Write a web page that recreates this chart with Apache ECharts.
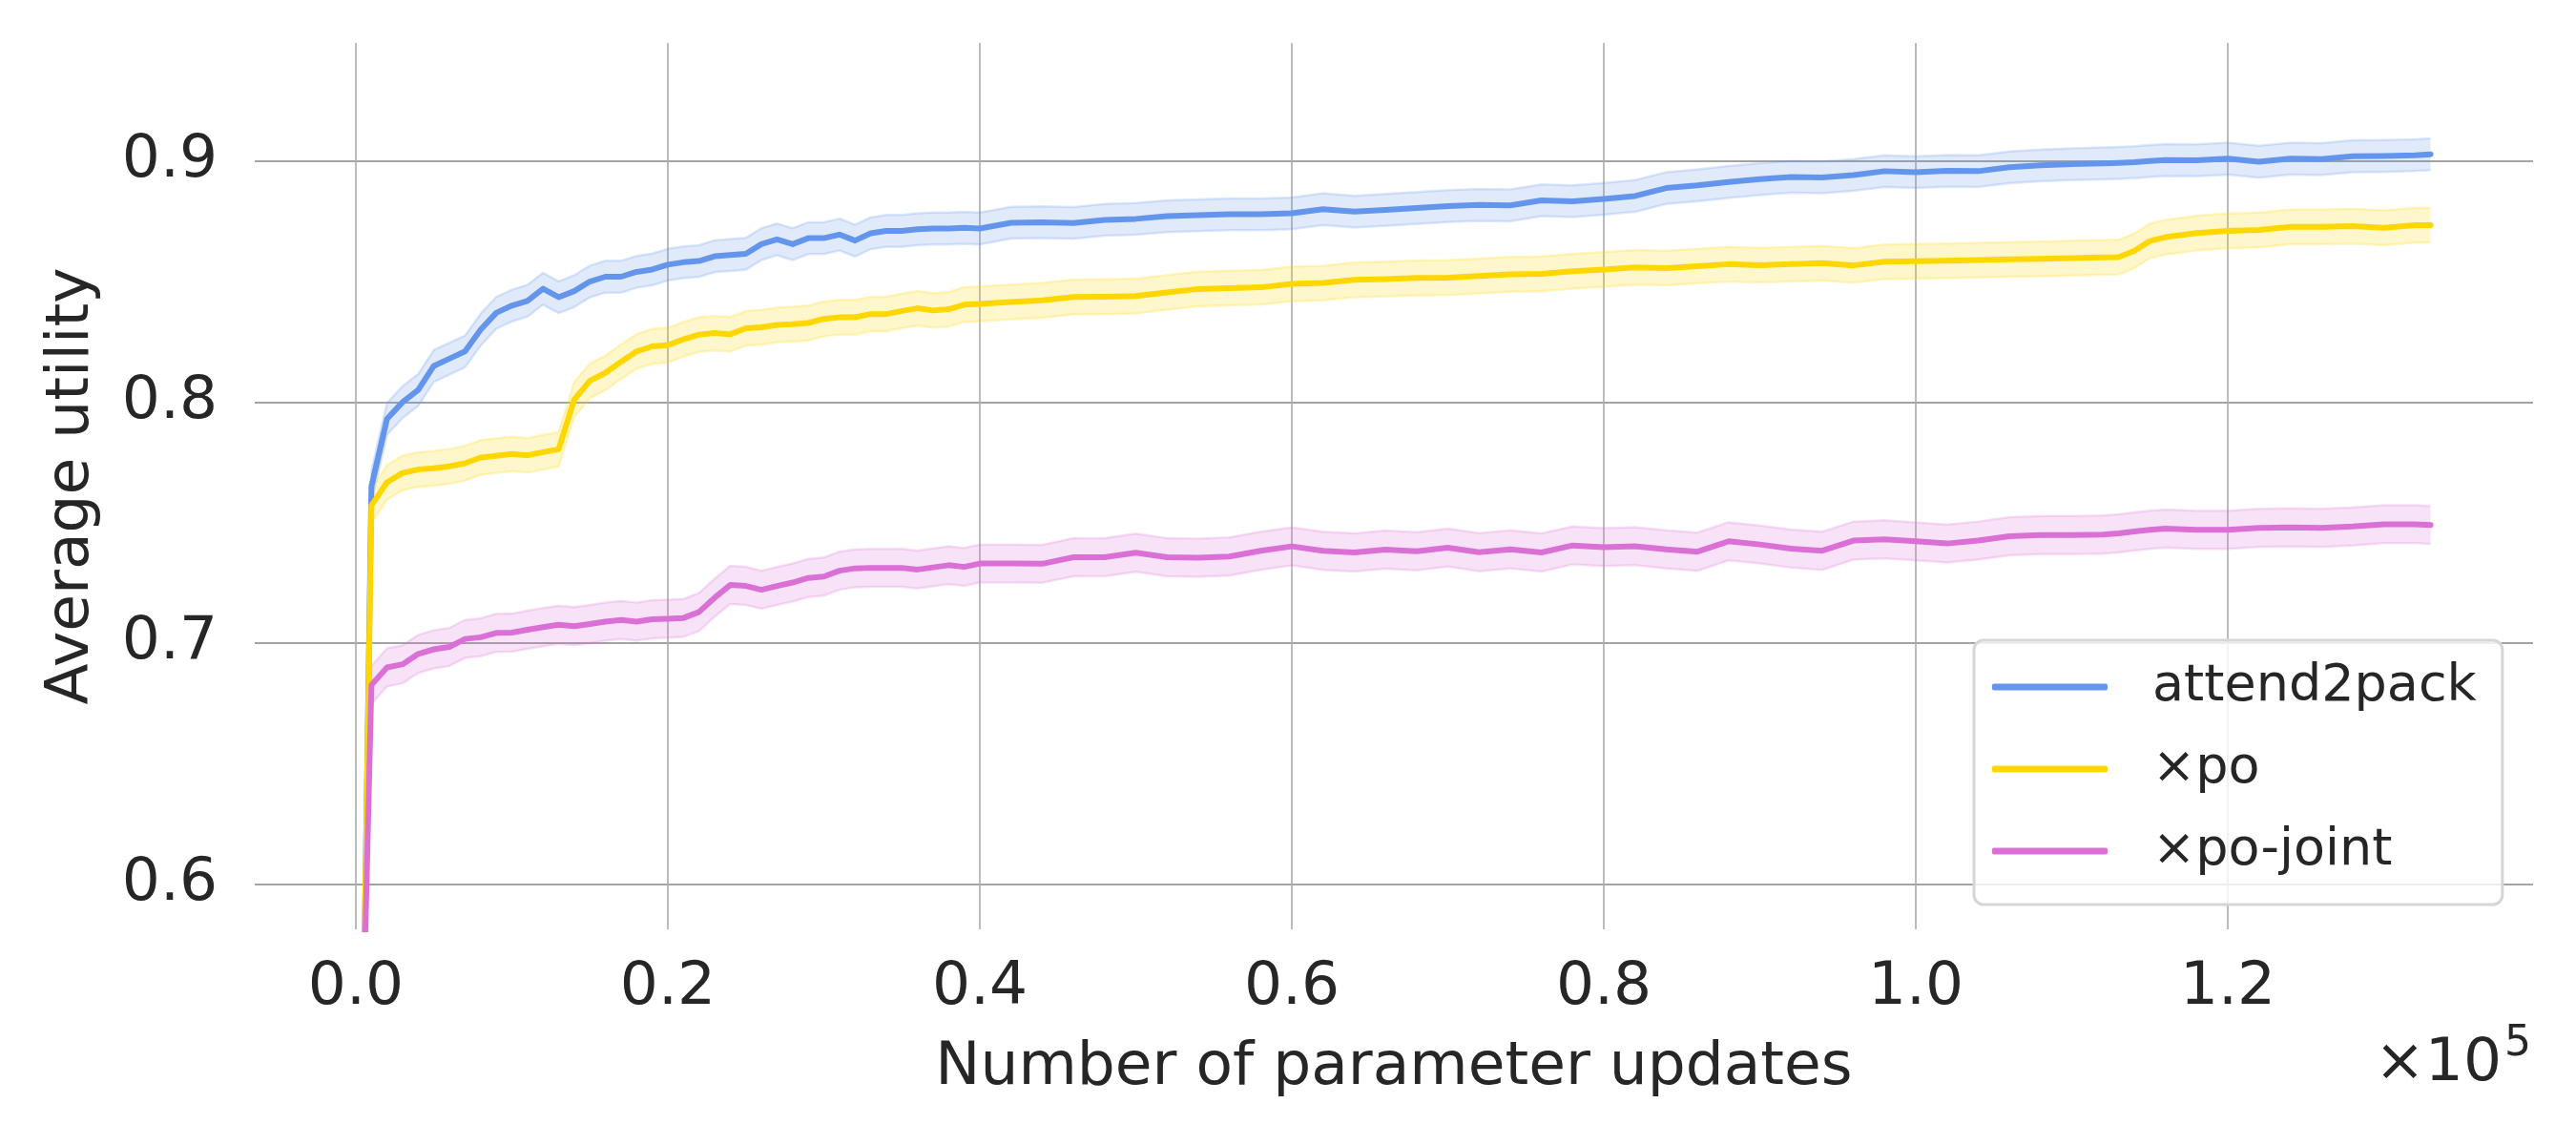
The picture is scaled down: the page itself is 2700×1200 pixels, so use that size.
<!DOCTYPE html>
<html>
<head>
<meta charset="utf-8">
<script src="https://cdn.jsdelivr.net/npm/echarts@6/dist/echarts.min.js"></script>
<style>
html,body{margin:0;padding:0;background:#ffffff;}
#chart{width:2700px;height:1200px;}
</style>
</head>
<body>
<div id="chart"></div>
<script>
// x: number of parameter updates
const updates = [
  500, 1000, 2000, 3000, 4000, 5000, 6000, 7000, 8000, 9000, 10000,
  11000, 12000, 13000, 14000, 15000, 16000, 17000, 18000, 19000, 20000,
  21000, 22000, 23000, 24000, 25000, 26000, 27000, 28000, 29000, 30000,
  31000, 32000, 33000, 34000, 35000, 36000, 37000, 38000, 39000, 40000,
  42000, 44000, 46000, 48000, 50000, 52000, 54000, 56000, 58000, 60000,
  62000, 64000, 66000, 68000, 70000, 72000, 74000, 76000, 78000, 80000,
  82000, 84000, 86000, 88000, 90000, 92000, 94000, 96000, 98000, 100000,
  102000, 104000, 106000, 108000, 110000, 112000, 113000, 114000, 115000, 116000,
  118000, 120000, 122000, 124000, 126000, 128000, 130000, 132000, 133000
];

const attend2pack = [
  0.550, 0.765, 0.793, 0.800, 0.805, 0.815, 0.818, 0.821, 0.830, 0.837, 0.840,
  0.842, 0.847, 0.8435, 0.846, 0.850, 0.852, 0.852, 0.854, 0.855, 0.857,
  0.858, 0.8585, 0.8605, 0.861, 0.8615, 0.8655, 0.8675, 0.8655, 0.868, 0.868,
  0.8695, 0.867, 0.870, 0.871, 0.871, 0.8717, 0.872, 0.872, 0.8723, 0.872,
  0.8744, 0.8746, 0.8743, 0.8756, 0.876, 0.8771, 0.8775, 0.8779, 0.8779, 0.8783,
  0.880, 0.879, 0.8797, 0.8805, 0.8813, 0.8818, 0.8816, 0.8837, 0.8833, 0.8843,
  0.8855, 0.8888, 0.8899, 0.8913, 0.8925, 0.8934, 0.8932, 0.8942, 0.8958, 0.8954,
  0.8959, 0.8958, 0.8974, 0.8982, 0.8987, 0.899, 0.8992, 0.8995, 0.9000, 0.9004,
  0.9003, 0.901, 0.8997, 0.901, 0.9008, 0.902, 0.9021, 0.9024, 0.9028
];

const xpo = [
  0.550, 0.757, 0.7667, 0.7706, 0.772, 0.7725, 0.7733, 0.7746, 0.777, 0.7777, 0.7785,
  0.7779, 0.7792, 0.7804, 0.801, 0.8088, 0.8121, 0.8167, 0.821, 0.8231, 0.8236,
  0.826, 0.828, 0.8286, 0.8281, 0.8306, 0.831, 0.832, 0.8323, 0.8328, 0.8345,
  0.8352, 0.8352, 0.8365, 0.8365, 0.8378, 0.8389, 0.838, 0.8385, 0.8404, 0.8407,
  0.8415, 0.8422, 0.8436, 0.8437, 0.844, 0.8455, 0.8469, 0.8473, 0.8476, 0.849,
  0.8494, 0.8507, 0.851, 0.8515, 0.8516, 0.8523, 0.853, 0.8532, 0.8543, 0.855,
  0.8559, 0.8556, 0.8564, 0.8572, 0.8568, 0.8572, 0.8576, 0.8567, 0.8582, 0.8584,
  0.8586, 0.8589, 0.8592, 0.8594, 0.8597, 0.860, 0.8601, 0.8627, 0.8668, 0.8684,
  0.8701, 0.871, 0.8714, 0.8727, 0.8727, 0.873, 0.8723, 0.8734, 0.8734
];

const xpoJoint = [
  0.550, 0.6826, 0.6899, 0.6912, 0.6955, 0.6974, 0.6984, 0.7017, 0.7024, 0.7042, 0.7043,
  0.7055, 0.7066, 0.7076, 0.707, 0.7079, 0.7089, 0.7096, 0.7089, 0.7099, 0.7101,
  0.7104, 0.7129, 0.7188, 0.7241, 0.7237, 0.7221, 0.7237, 0.7251, 0.727, 0.7276,
  0.730, 0.731, 0.7312, 0.7312, 0.7312, 0.7305, 0.7314, 0.7323, 0.7316, 0.733,
  0.733, 0.7329, 0.7356, 0.7356, 0.7375, 0.7356, 0.7354, 0.7359, 0.7383, 0.7401,
  0.7383, 0.7376, 0.7388, 0.7381, 0.7396, 0.7377, 0.7389, 0.7376, 0.7405, 0.7398,
  0.7402, 0.7389, 0.7379, 0.7422, 0.7409, 0.7392, 0.7383, 0.7425, 0.743, 0.7422,
  0.7413, 0.7425, 0.7443, 0.7448, 0.7448, 0.745, 0.7455, 0.7463, 0.747, 0.7475,
  0.747, 0.747, 0.7478, 0.748, 0.7478, 0.7484, 0.7493, 0.7493, 0.749
];

// half-width of the shaded confidence band
const bandAttend2pack = 0.0066;
const bandXpo = 0.0072;
const bandXpoJoint = 0.0079;

const seriesNames = ['attend2pack', '×po', '×po-joint'];
const seriesColors = ['#6495ED', '#FFD700', '#DA70D6'];
const seriesRGB = ['100,149,237', '255,215,0', '218,112,214'];

const FONT = '"DejaVu Sans", "Liberation Sans", sans-serif';
const TXT = '#262626';

function bandSeries(vals, half, rgb) {
  return {
    type: 'custom',
    silent: true,
    z: 1,
    data: updates.map((x, i) => [x, vals[i] - half, vals[i] + half]),
    encode: { x: 0, y: [1, 2] },
    renderItem: function (params, api) {
      if (params.dataIndex !== 0) return null;
      const upper = updates.map((x, i) => api.coord([x, vals[i] + half]));
      const lower = updates.map((x, i) => api.coord([x, vals[i] - half]));
      const poly = upper.concat(lower.slice().reverse());
      const cs = params.coordSys;
      return {
        type: 'group',
        clipPath: { type: 'rect', shape: { x: cs.x, y: cs.y, width: cs.width, height: cs.height } },
        children: [
          { type: 'polygon', shape: { points: poly }, style: { fill: 'rgba(' + rgb + ',0.2)', stroke: null } },
          { type: 'polyline', shape: { points: upper }, style: { fill: null, stroke: 'rgba(' + rgb + ',0.22)', lineWidth: 2.5 } },
          { type: 'polyline', shape: { points: lower }, style: { fill: null, stroke: 'rgba(' + rgb + ',0.22)', lineWidth: 2.5 } }
        ]
      };
    }
  };
}

function meanSeries(name, vals, color) {
  return {
    name: name,
    type: 'line',
    data: updates.map((x, i) => [x, vals[i]]),
    symbol: 'none',
    color: color,
    itemStyle: { color: color },
    lineStyle: { color: color, width: 6, cap: 'round', join: 'round' },
    z: 3,
    clip: true,
    silent: true
  };
}

const chart = echarts.init(document.getElementById('chart'), null, { renderer: 'canvas' });

const option = {
  backgroundColor: '#ffffff',
  animation: false,
  grid: { left: 267, right: 45, top: 45, bottom: 226, containLabel: false },
  xAxis: {
    type: 'value',
    min: -6480,
    max: 139570,
    minInterval: 20000,
    maxInterval: 20000,
    axisLine: { show: false },
    axisTick: { show: false },
    splitLine: { show: true, showMinLine: false, showMaxLine: false, lineStyle: { color: '#ababab', width: 1.6 } },
    axisLabel: {
      showMinLabel: false, showMaxLabel: false,
      margin: 30,
      color: TXT, fontFamily: FONT, fontSize: 63,
      formatter: v => (v / 1e5).toFixed(1)
    },
    name: 'Number of parameter updates',
    nameLocation: 'middle',
    nameGap: 114,
    nameTextStyle: { color: TXT, fontFamily: FONT, fontSize: 63 }
  },
  yAxis: {
    type: 'value',
    min: 0.5812,
    max: 0.949,
    minInterval: 0.1,
    maxInterval: 0.1,
    axisLine: { show: false },
    axisTick: { show: false },
    splitLine: { show: true, showMinLine: false, showMaxLine: false, lineStyle: { color: '#a3a3a3', width: 2 } },
    axisLabel: {
      showMinLabel: false, showMaxLabel: false,
      margin: 39,
      color: TXT, fontFamily: FONT, fontSize: 63,
      formatter: v => v.toFixed(1)
    },
    name: 'Average utility',
    nameLocation: 'middle',
    nameGap: 160,
    nameTextStyle: { color: TXT, fontFamily: FONT, fontSize: 63 }
  },
  legend: {
    data: seriesNames,
    orient: 'vertical',
    left: 2069,
    top: 671,
    padding: [22, 27, 29, 19],
    itemWidth: 121,
    itemHeight: 7,
    itemGap: 32,
    icon: 'roundRect',
    backgroundColor: 'rgba(255,255,255,0.8)',
    borderColor: '#d6d6d6',
    borderWidth: 3,
    borderRadius: 10,
    selectedMode: false,
    textStyle: { color: TXT, fontFamily: FONT, fontSize: 54, lineHeight: 54, padding: [0, 0, 0, 42] }
  },
  graphic: [
    { type: 'text', x: 2622, y: 1116, style: { text: '×10', font: '63px ' + FONT, fill: TXT, align: 'right', verticalAlign: 'middle' } },
    { type: 'text', x: 2625, y: 1095, style: { text: '5', font: '44px ' + FONT, fill: TXT, align: 'left', verticalAlign: 'middle' } }
  ],
  series: [
    bandSeries(attend2pack, bandAttend2pack, seriesRGB[0]),
    bandSeries(xpo, bandXpo, seriesRGB[1]),
    bandSeries(xpoJoint, bandXpoJoint, seriesRGB[2]),
    meanSeries(seriesNames[0], attend2pack, seriesColors[0]),
    meanSeries(seriesNames[1], xpo, seriesColors[1]),
    meanSeries(seriesNames[2], xpoJoint, seriesColors[2])
  ]
};

chart.setOption(option);
</script>
</body>
</html>
